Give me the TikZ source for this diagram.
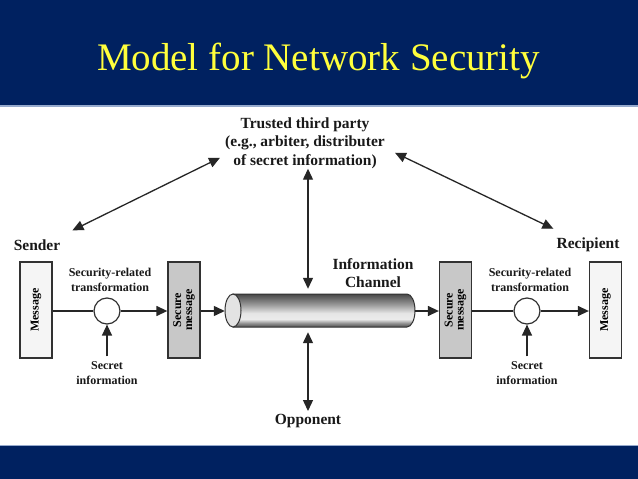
\documentclass[tikz,border=0pt]{standalone}
\usepackage{fontspec}
\usepackage{graphicx}
\setmainfont{Liberation Serif}
\usetikzlibrary{arrows.meta,calc}
\definecolor{navy}{RGB}{0,33,96}
\definecolor{titley}{RGB}{255,255,60}
\definecolor{edge}{RGB}{50,50,50}
\definecolor{msgfill}{RGB}{245,245,245}
\definecolor{smsgfill}{RGB}{200,200,200}
\definecolor{sepline}{RGB}{150,170,205}
\pgfdeclareverticalshading{cylshade}{100bp}{color(0bp)=(black!70); color(25bp)=(black!70); color(31bp)=(black!42); color(37bp)=(black!8); color(46bp)=(black!10); color(59bp)=(black!40); color(75bp)=(black!72); color(100bp)=(black!72)}
\tikzset{
  lbl/.style={font=\bfseries\fontsize{15.5}{18.5}\selectfont, text=black!90, align=center, inner sep=1pt},
  small/.style={font=\bfseries\fontsize{12}{15}\selectfont, text=black!90, align=center, inner sep=1pt},
  msgbox/.style={draw=edge, line width=1.3pt, fill=msgfill, minimum width=32pt, minimum height=96pt, inner sep=0pt, font=\bfseries\fontsize{12}{13}\selectfont},
  smsgbox/.style={msgbox, fill=smsgfill},
  xform/.style={circle, draw=edge, line width=1.2pt, fill=white, minimum size=26pt, inner sep=0pt},
  conn/.style={draw=black!85, line width=1.3pt},
  tip/.tip={Triangle[length=11pt,width=10pt]},
  arr/.style={conn, -tip},
  darr/.style={conn, tip-tip}
}
\begin{document}
\begin{tikzpicture}[x=1pt,y=-1pt]
\useasboundingbox (0,0) rectangle (638,479);
% bands
\fill[white] (0,0) rectangle (638,479);
\fill[navy] (0,0) rectangle (638,105.5);
\draw[sepline, line width=1.2pt] (0,106) -- (638,106);
\fill[navy] (0,446) rectangle (638,479);
\draw[sepline, line width=1.2pt] (0,445.5) -- (638,445.5);
\node[text=titley, font=\fontsize{39}{44}\selectfont, inner sep=0pt] (title) at (318.5,61) {Model for Network Security};

% labels
\node[lbl] (tp) at (305,143) {Trusted third party\\(e.g., arbiter, distributer\\of secret information)};
\node[lbl] (sender) at (37,245) {Sender};
\node[lbl] (recip) at (588,245) {Recipient};
\node[lbl] (chanlbl) at (373,273) {Information\\Channel};
\node[lbl] (opp) at (308,421) {Opponent};

% boxes
\node[msgbox] (msgL) at (36,310) {\rotatebox{90}{Message}};
\node[xform] (circL) at (107,311) {};
\node[smsgbox] (smsgL) at (184,310) {\rotatebox{90}{\begin{tabular}{@{}c@{}}Secure\\[-2pt]message\end{tabular}}};
\node[smsgbox] (smsgR) at (455.5,310) {\rotatebox{90}{\begin{tabular}{@{}c@{}}Secure\\[-2pt]message\end{tabular}}};
\node[xform] (circR) at (527,311) {};
\node[msgbox] (msgR) at (605.5,310) {\rotatebox{90}{Message}};

\node[small] (secL) at (110,279.5) {Security-related\\transformation};
\node[small] (secR) at (530,279.5) {Security-related\\transformation};
\node[small] (skL) at (107,373) {Secret\\information};
\node[small] (skR) at (527,373) {Secret\\information};

% cylinder
\node[minimum width=190pt, minimum height=33pt, inner sep=0pt] (chan) at (320,310.5) {};
\shade[shading=cylshade, draw=edge, line width=1pt] (233,294) -- (407,294) arc[start angle=-90, end angle=90, x radius=8, y radius=16.5] -- (233,327) -- cycle;
\draw[edge, line width=1pt, fill=black!11] (233,310.5) ellipse[x radius=8, y radius=16.5];

% connectors
\draw[conn] (msgL.east |- circL) -- (circL.west);
\draw[arr] (circL.east) -- (smsgL.west |- circL);
\draw[arr] (smsgL.east |- circL) -- (chan.west |- circL);
\draw[arr] (chan.east |- circR) -- (smsgR.west |- circR);
\draw[conn] (smsgR.east |- circR) -- (circR.west);
\draw[arr] (circR.east) -- (msgR.west |- circR);
\draw[arr] ($(skL.north)+(0,-4)$) -- (circL.south);
\draw[arr] ($(skR.north)+(0,-4)$) -- (circR.south);

\draw[darr] ($(opp |- tp.south)+(0,-1)$) -- ($(opp |- chan.north)+(0,-5)$);
\draw[darr] ($(opp |- chan.south)+(0,5)$) -- ($(opp.north)+(0,-2)$);

\draw[darr] ($(sender.north east)+(11,-8)$) -- ($(tp.south west)+(-4,-12)$);
\draw[darr] ($(tp.south east)+(9,-17)$) -- ($(recip.north west)+(-2,-8)$);
\end{tikzpicture}
\end{document}
